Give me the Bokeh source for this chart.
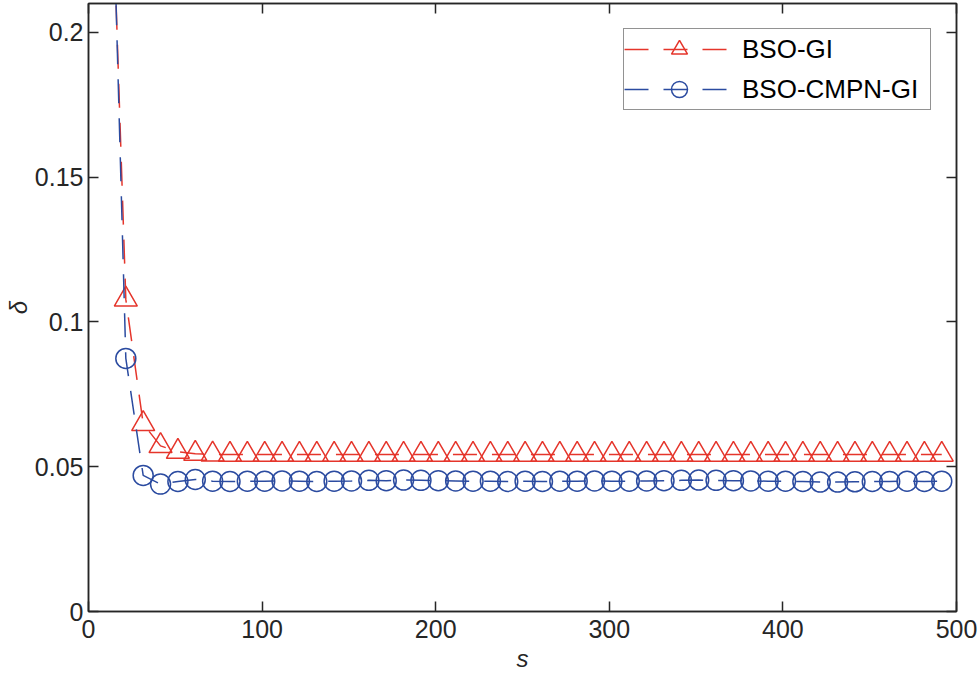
from bokeh.plotting import figure
from bokeh.models import LinearAxis, Legend, LegendItem, FixedTicker, Range1d
from bokeh.embed import file_html
from bokeh.resources import INLINE

# data
s = [11.5, 21.5, 31.5, 41.5, 51.5, 61.5, 71.5, 81.5, 91.5, 101.5,
     111.5, 121.5, 131.5, 141.5, 151.5, 161.5, 171.5, 181.5, 191.5, 201.5,
     211.5, 221.5, 231.5, 241.5, 251.5, 261.5, 271.5, 281.5, 291.5, 301.5,
     311.5, 321.5, 331.5, 341.5, 351.5, 361.5, 371.5, 381.5, 391.5, 401.5,
     411.5, 421.5, 431.5, 441.5, 451.5, 461.5, 471.5, 481.5, 491.5]

bso_gi = [0.29, 0.1078, 0.0648, 0.0572, 0.0552, 0.0545, 0.0543, 0.0542, 0.0542, 0.0542,
          0.0542, 0.0542, 0.0542, 0.0542, 0.0542, 0.0542, 0.0542, 0.0542, 0.0542, 0.0542,
          0.0542, 0.0542, 0.0542, 0.0542, 0.0542, 0.0542, 0.0542, 0.0542, 0.0542, 0.0542,
          0.0542, 0.0542, 0.0542, 0.0542, 0.0542, 0.0542, 0.0542, 0.0542, 0.0542, 0.0542,
          0.0542, 0.0542, 0.0542, 0.0542, 0.0542, 0.0542, 0.0542, 0.0542, 0.0542]

bso_cmpn_gi = [0.305, 0.0874, 0.0470, 0.0440, 0.0449, 0.0456, 0.0450, 0.0449, 0.0450, 0.0450,
               0.0451, 0.0450, 0.0449, 0.0450, 0.0451, 0.0453, 0.0452, 0.0454, 0.0453, 0.0452,
               0.0451, 0.0450, 0.0450, 0.0449, 0.0450, 0.0449, 0.0450, 0.0450, 0.0451, 0.0450,
               0.0450, 0.0451, 0.0452, 0.0453, 0.0454, 0.0453, 0.0452, 0.0451, 0.0450, 0.0450,
               0.0449, 0.0447, 0.0447, 0.0448, 0.0449, 0.0449, 0.0450, 0.0449, 0.0450]

x_ticks = [0, 100, 200, 300, 400, 500]
y_ticks = [0, 0.05, 0.1, 0.15, 0.2]
y_tick_labels = ["0", "0.05", "0.1", "0.15", "0.2"]

RED = "#e5352b"
BLUE = "#2b4ba0"
AXC = "#262626"
FONT = "Liberation Sans"

p = figure(width=980, height=681,
           x_range=Range1d(0, 500), y_range=Range1d(0, 0.21),
           output_backend="svg", toolbar_location=None,
           min_border_left=88, min_border_right=24,
           min_border_top=3, min_border_bottom=70)

p.xgrid.visible = False
p.ygrid.visible = False
p.outline_line_color = AXC
p.outline_line_width = 1.5
p.background_fill_color = "white"

# main axes, ticks pointing inwards like matlab
for ax, ticks in ((p.xaxis[0], x_ticks), (p.yaxis[0], y_ticks)):
    ax.ticker = FixedTicker(ticks=ticks)
    ax.axis_line_color = AXC
    ax.axis_line_width = 1.5
    ax.major_tick_line_color = AXC
    ax.major_tick_line_width = 1.5
    ax.major_tick_in = 10
    ax.major_tick_out = 0
    ax.minor_tick_line_color = None
    ax.major_label_text_font = FONT
    ax.major_label_text_font_size = "25px"
    ax.major_label_text_color = AXC
    ax.axis_label_text_font = FONT
    ax.axis_label_text_font_size = "24px"
    ax.axis_label_text_font_style = "italic"
    ax.axis_label_text_color = AXC

p.yaxis[0].major_label_overrides = dict(zip(y_ticks, y_tick_labels))
p.xaxis[0].major_label_standoff = 8
p.yaxis[0].major_label_standoff = 5
p.xaxis[0].axis_label = "s"
p.yaxis[0].axis_label = "δ"
p.xaxis[0].axis_label_standoff = 4
p.yaxis[0].axis_label_standoff = 0

# box ticks on top and right, labels hidden
for loc, ticks in (("above", x_ticks), ("right", y_ticks)):
    ax = LinearAxis(ticker=FixedTicker(ticks=ticks))
    ax.axis_line_color = AXC
    ax.axis_line_width = 1.5
    ax.major_tick_line_color = AXC
    ax.major_tick_line_width = 1.5
    ax.major_tick_in = 10
    ax.major_tick_out = 0
    ax.minor_tick_line_color = None
    ax.major_label_text_color = None
    ax.major_label_text_font_size = "1px"
    ax.major_label_standoff = 0
    p.add_layout(ax, loc)

l1 = p.line(s, bso_gi, line_color=RED, line_width=1.5, line_dash="24 15")
m1 = p.scatter(s, bso_gi, marker="triangle", size=23, fill_color=None,
               line_color=RED, line_width=1.5)
l2 = p.line(s, bso_cmpn_gi, line_color=BLUE, line_width=1.5, line_dash="24 15")
m2 = p.scatter(s, bso_cmpn_gi, marker="circle", size=20, fill_color=None,
               line_color=BLUE, line_width=1.5)

legend = Legend(items=[LegendItem(label="BSO-GI", renderers=[l1, m1]),
                       LegendItem(label="BSO-CMPN-GI", renderers=[l2, m2])],
                location=(535, 501))
legend.label_text_font = FONT
legend.label_text_font_size = "26px"
legend.label_text_color = "black"
legend.glyph_width = 110
legend.glyph_height = 40
legend.label_height = 40
legend.label_width = 188
legend.label_standoff = 8
legend.spacing = 0
legend.padding = 0
legend.border_line_color = AXC
legend.border_line_width = 1.5
legend.background_fill_alpha = 1
p.add_layout(legend, "center")

open("out.html", "w").write(file_html(p, INLINE))
